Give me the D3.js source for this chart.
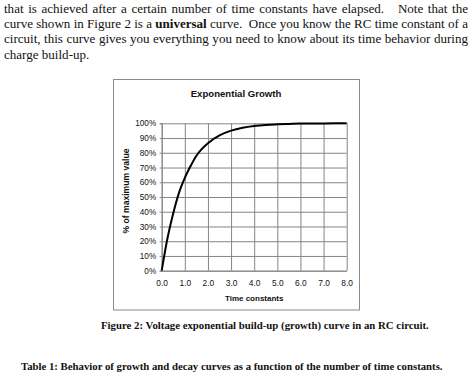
<!DOCTYPE html>
<html>
<head>
<meta charset="utf-8">
<script src="https://cdn.jsdelivr.net/npm/d3@7"></script>
<style>
  html, body { margin: 0; padding: 0; background: #fff; }
  svg { display: block; }
</style>
</head>
<body>
<svg id="chart" width="474" height="379"></svg>
<script>
// ---- data ----
const timeConstants = [0, 0.25, 0.5, 0.75, 1, 1.25, 1.5, 2, 2.5, 3, 3.5, 4, 4.5, 5, 5.5, 6, 7, 8];
const percentOfMax  = [0, 0.22, 0.39, 0.53, 0.63, 0.71, 0.78, 0.865, 0.918, 0.95, 0.97, 0.982, 0.989, 0.993, 0.996, 0.998, 0.999, 1.0];
const xTickValues = [0, 1, 2, 3, 4, 5, 6, 7, 8];
const yTickValues = [0, 0.1, 0.2, 0.3, 0.4, 0.5, 0.6, 0.7, 0.8, 0.9, 1.0];
const chartTitle = "Exponential Growth";
const xTitle = "Time constants";
const yTitle = "% of maximum value";
// paragraph words; "b" = bold, "gap" = relative width of the gap after the word
const paragraph = [
  "that is achieved after a certain number of time constants have elapsed.|3 Note that the",
  "curve shown in Figure 2 is a *universal* curve.|2 Once you know the RC time constant of a",
  "circuit, this curve gives you everything you need to know about its time behavior during",
  "charge build-up."
];
const figCaption = "Figure 2: Voltage exponential build-up (growth) curve in an RC circuit.";
const tableCaption = "Table 1: Behavior of growth and decay curves as a function of the number of time constants.";

// ---- drawing ----
const svg = d3.select("#chart");
const serif = "'Liberation Serif', 'Times New Roman', serif";
const sans = "'Liberation Sans', Arial, sans-serif";

// paragraph: justified word by word
const lineBase = [12.6, 28, 43.3, 58.5];
const left = 4, right = 468;
const parsed = paragraph.map(l => l.split(" ").map(w => {
  let gap = 1, b = false;
  const m = w.match(/\|(\d)$/);
  if (m) { gap = +m[1]; w = w.replace(/\|\d$/, ""); }
  if (/^\*.*\*[.,]?$/.test(w)) { b = true; w = w.replace(/\*/g, ""); }
  return {w, gap, b};
}));
// measure at reference size
const probe = svg.append("text").attr("font-family", serif).attr("font-size", 10);
function wlen(w, b, fs) {
  probe.attr("font-weight", b ? "bold" : "normal").text(w);
  return probe.node().getComputedTextLength() * fs / 10;
}
// font size so the tightest justified line has normal 0.25em spaces
let fsPar = 15;
for (let i = 0; i < 3; i++) {
  const words = parsed[i];
  const wsum10 = d3.sum(words, d => wlen(d.w, d.b, 10));
  const gaps = d3.sum(words.slice(0, -1), d => d.gap);
  const fs = (right - left) / (wsum10 / 10 + gaps * 0.25);
  fsPar = Math.min(fsPar, fs);
}
parsed.forEach((words, i) => {
  const widths = words.map(d => wlen(d.w, d.b, fsPar));
  const gaps = d3.sum(words.slice(0, -1), d => d.gap);
  let unit = i < 3 ? ((right - left) - d3.sum(widths)) / gaps : fsPar * 0.25;
  let cx = left;
  words.forEach((d, j) => {
    svg.append("text").attr("x", cx).attr("y", lineBase[i])
      .attr("font-family", serif).attr("font-size", fsPar).attr("fill", "#111")
      .attr("font-weight", d.b ? "bold" : "normal").text(d.w);
    cx += widths[j] + unit * d.gap;
  });
});
probe.remove();

// chart frame
svg.append("rect")
  .attr("x", 113.5).attr("y", 79.5).attr("width", 246).attr("height", 230.5)
  .attr("fill", "#fff").attr("stroke", "#8a8a8a").attr("stroke-width", 1);

const x = d3.scaleLinear().domain([0, 8]).range([161.7, 346.7]);
const y = d3.scaleLinear().domain([0, 1]).range([270.7, 123.3]);

// gridlines
const gx = svg.append("g").attr("transform", `translate(0,${y(0)})`)
  .call(d3.axisBottom(x).tickValues(xTickValues).tickSize(-(y(0) - y(1))).tickFormat(""));
gx.select(".domain").remove();
gx.selectAll("line").attr("stroke", "#858585").attr("stroke-width", 1);

const gy = svg.append("g").attr("transform", `translate(${x(0)},0)`)
  .call(d3.axisLeft(y).tickValues(yTickValues).tickSize(-(x(8) - x(0))).tickFormat(""));
gy.select(".domain").remove();
gy.selectAll("line").attr("stroke", "#858585").attr("stroke-width", 1);

// axes with labels
const ay = svg.append("g").attr("transform", `translate(${x(0)},0)`)
  .call(d3.axisLeft(y).tickValues(yTickValues).tickSize(2).tickPadding(3.5).tickFormat(d3.format(".0%")));
ay.select(".domain").attr("stroke", "#858585");
ay.selectAll("line").attr("stroke", "#858585");
ay.selectAll("text").attr("font-family", sans).attr("font-size", 8.2).attr("fill", "#111");

const ax = svg.append("g").attr("transform", `translate(0,${y(0)})`)
  .call(d3.axisBottom(x).tickValues(xTickValues).tickSize(0).tickPadding(9).tickFormat(d3.format(".1f")));
ax.select(".domain").attr("stroke", "#858585");
ax.selectAll("text").attr("font-family", sans).attr("font-size", 8.4).attr("fill", "#111");

// curve
const line = d3.line()
  .x((d, i) => x(timeConstants[i]))
  .y(d => y(d))
  .curve(d3.curveMonotoneX);
svg.append("path")
  .datum(percentOfMax)
  .attr("d", line)
  .attr("fill", "none").attr("stroke", "#000").attr("stroke-width", 2);

// titles
svg.append("text")
  .attr("x", 236).attr("y", 96.7).attr("text-anchor", "middle")
  .attr("font-family", sans).attr("font-weight", "bold").attr("font-size", 9.6).attr("fill", "#111")
  .text(chartTitle);

svg.append("text")
  .attr("x", (x(0) + x(8)) / 2).attr("y", 301).attr("text-anchor", "middle")
  .attr("font-family", sans).attr("font-weight", "bold").attr("font-size", 8).attr("fill", "#111")
  .text(xTitle);

svg.append("text")
  .attr("transform", "translate(129.3,191) rotate(-90)").attr("text-anchor", "middle")
  .attr("font-family", sans).attr("font-weight", "bold").attr("font-size", 8.6).attr("fill", "#111")
  .text(yTitle);

// captions, sized to the reference widths
function fitted(txt, xPos, yPos, target) {
  const t = svg.append("text")
    .attr("x", xPos).attr("y", yPos)
    .attr("font-family", serif).attr("font-weight", "bold").attr("font-size", 10).attr("fill", "#111")
    .text(txt);
  const w = t.node().getComputedTextLength();
  t.attr("font-size", 10 * target / w);
}
fitted(figCaption, 101, 328.5, 328);
fitted(tableCaption, 21, 369.5, 422);
</script>
</body>
</html>
